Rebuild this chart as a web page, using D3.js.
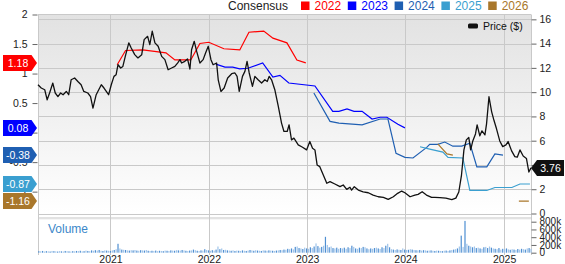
<!DOCTYPE html>
<html>
<head>
<meta charset="utf-8">
<script src="https://cdn.jsdelivr.net/npm/d3@7"></script>
<style>
body{margin:0;background:#fff;}
svg{display:block;font-family:"Liberation Sans",Arial,sans-serif;}
</style>
</head>
<body>
<div class="container"></div>
<script>
// price ($)
var priceDates = ["2020-04-07","2020-04-19","2020-05-02","2020-05-11","2020-05-20","2020-06-01","2020-06-10","2020-06-20","2020-06-30","2020-07-09","2020-07-21","2020-07-30","2020-08-08","2020-08-21","2020-09-02","2020-09-14","2020-09-24","2020-10-09","2020-10-19","2020-10-28","2020-11-09","2020-11-28","2020-12-08","2020-12-25",
"2021-01-04","2021-01-14","2021-01-22","2021-01-29","2021-02-08","2021-02-16","2021-02-25","2021-03-10","2021-03-19","2021-04-01","2021-04-13","2021-04-27","2021-05-06","2021-05-19","2021-05-27","2021-06-05","2021-06-15","2021-06-27","2021-07-10","2021-07-22","2021-08-03","2021-08-16","2021-08-28","2021-09-07","2021-09-16","2021-09-22","2021-10-04","2021-10-14","2021-10-23","2021-10-29","2021-11-08","2021-11-17","2021-11-29","2021-12-11","2021-12-20","2021-12-30",
"2022-01-09","2022-01-17","2022-01-30","2022-02-05","2022-02-15","2022-02-27","2022-03-12","2022-03-27","2022-04-08","2022-04-16","2022-04-24","2022-05-06","2022-05-15","2022-05-23","2022-05-31","2022-06-12","2022-06-21","2022-07-03","2022-07-16","2022-07-28","2022-08-06","2022-08-13","2022-08-22","2022-09-03","2022-09-16","2022-09-28","2022-10-07","2022-10-19","2022-10-26","2022-11-04","2022-11-13","2022-11-29","2022-12-15","2022-12-30",
"2023-01-11","2023-01-21","2023-01-30","2023-02-07","2023-02-17","2023-03-02","2023-03-15","2023-03-27","2023-04-14","2023-05-03","2023-05-15","2023-05-28","2023-06-09","2023-06-15","2023-06-25","2023-07-10","2023-07-28","2023-08-16","2023-09-03","2023-09-22","2023-10-11","2023-10-29","2023-11-17","2023-12-03","2023-12-18","2023-12-30",
"2024-01-18","2024-02-05","2024-02-17","2024-03-03","2024-03-19","2024-04-07","2024-04-19","2024-05-08","2024-05-30","2024-06-21","2024-07-06","2024-07-17","2024-07-27","2024-08-05","2024-08-14","2024-08-23","2024-08-30","2024-09-07","2024-09-17","2024-09-23","2024-10-03","2024-10-11","2024-10-22","2024-10-28","2024-11-06","2024-11-16","2024-11-25","2024-12-04","2024-12-16","2024-12-27",
"2025-01-08","2025-01-16","2025-01-29","2025-02-10","2025-02-19","2025-03-01","2025-03-13","2025-03-25","2025-04-03","2025-04-11"];
var priceValues = [10.61,10.34,10.20,9.37,9.93,10.75,9.93,9.64,9.93,9.79,10.06,9.79,11.02,11.17,10.88,10.61,10.06,9.93,9.64,8.69,9.79,10.61,10.34,9.79,
10.61,11.30,11.44,12.26,11.99,12.12,12.95,14.06,13.64,13.09,12.82,13.09,14.33,14.60,13.92,15.02,14.06,13.78,12.95,12.68,11.85,11.99,12.12,12.40,12.68,12.40,12.54,12.74,11.91,13.50,14.19,13.36,12.40,12.68,13.23,13.78,
12.68,12.26,12.40,11.02,10.06,10.34,11.17,11.52,11.58,11.30,10.06,11.30,11.71,12.54,11.58,10.47,11.30,11.02,10.75,11.02,10.88,11.30,11.02,10.20,8.82,7.45,6.76,6.76,7.31,6.07,6.21,5.65,5.46,5.24,
5.93,5.38,5.24,4.00,3.86,3.17,2.49,2.62,2.43,2.21,2.35,1.99,2.16,1.93,2.21,1.93,1.79,1.71,1.52,1.38,1.33,1.17,1.38,1.66,1.85,1.71,
1.38,1.52,1.58,1.79,1.52,1.33,1.33,1.31,1.27,1.15,1.27,1.77,3.17,5.24,6.07,6.27,5.24,5.98,6.56,7.31,6.40,6.81,6.48,7.39,9.62,8.38,7.64,6.98,5.98,5.51,
5.65,5.93,5.16,4.69,4.64,5.24,4.74,4.54,3.42,3.76];

// consensus EPS estimates per fiscal year
var est2022Dates = ["2021-01-26","2021-02-26","2021-05-01","2021-07-26","2021-08-28","2021-10-26","2021-11-29","2022-01-01","2022-02-26","2022-04-26","2022-05-30","2022-07-24","2022-08-27","2022-10-18","2022-11-24","2022-12-27"];
var est2022 = [1.15,1.39,1.40,1.35,1.23,1.23,1.51,1.53,1.42,1.40,1.70,1.72,1.60,1.52,1.23,1.18];
var est2023Dates = ["2022-01-27","2022-03-02","2022-03-31","2022-04-26","2022-05-26","2022-07-20","2022-08-27","2022-09-22","2022-10-25","2023-01-30","2023-04-06","2023-04-29","2023-05-29","2023-06-24","2023-07-24","2023-08-30","2023-09-29","2023-10-24","2023-12-04","2023-12-30"];
var est2023 = [1.16,1.11,1.11,1.08,1.09,1.18,0.94,0.97,0.84,0.79,0.36,0.36,0.40,0.36,0.36,0.23,0.26,0.26,0.14,0.08];
var est2024Dates = ["2023-01-26","2023-03-27","2023-04-29","2023-07-24","2023-09-29","2023-10-28","2023-11-27","2023-12-30","2024-01-29","2024-03-20","2024-03-31","2024-04-30","2024-05-26","2024-06-25","2024-07-28","2024-08-27","2024-09-22","2024-10-29","2024-11-28","2024-12-28"];
var est2024 = [0.67,0.19,0.16,0.13,0.23,0.23,-0.35,-0.42,-0.43,-0.25,-0.20,-0.20,-0.16,-0.23,-0.23,-0.18,-0.58,-0.58,-0.36,-0.38];
var est2025Dates = ["2024-02-24","2024-03-31","2024-05-19","2024-06-07","2024-08-01","2024-08-27","2024-10-29","2024-11-28","2025-01-30","2025-03-01","2025-04-07"];
var est2025 = [-0.24,-0.28,-0.33,-0.42,-0.43,-0.98,-0.98,-0.93,-0.93,-0.87,-0.87];
var est2026Dates = ["2024-04-30","2024-06-03","2024-06-25","2024-07-01","2025-02-25","2025-04-03"];
var est2026 = [-0.19,-0.36,-0.38,null,-1.16,-1.16];

var consensusYears = ["2022","2023","2024","2025","2026"];
var consensusBadges = [1.18,0.08,-0.38,-0.87,-1.16];
var lastPrice = 3.76;

// weekly volume in thousands, first week ending 2020-04-10
var VOLUME_FIRST_WEEK = "2020-04-10";
var volumeValues = [
40,35,45,30,40,35,30,45,40,35,
30,40,35,30,45,40,35,30,40,35,
45,40,50,35,40,55,45,40,60,50,
65,55,70,50,45,60,55,50,45,60,
70,90,230,110,80,75,70,60,55,65,
60,70,55,50,65,60,55,70,50,45,
50,45,55,40,50,45,40,55,50,45,
60,55,50,65,60,55,70,60,50,45,
55,60,80,65,50,45,60,55,90,70,
60,50,65,55,80,160,90,110,70,75,
60,55,50,60,45,55,50,45,60,50,
45,55,70,60,50,65,55,50,45,60,
55,50,60,55,50,45,55,60,70,65,
80,75,100,90,110,85,150,160,120,110,
95,130,110,100,140,120,160,240,170,130,
150,180,410,200,140,160,120,110,130,100,
120,110,130,100,140,120,180,150,110,100,
130,120,150,140,110,90,110,100,120,130,
110,95,140,120,180,230,140,90,80,70,
85,75,70,110,80,70,75,90,80,70,
65,60,70,55,65,60,50,55,60,50,
45,55,50,45,40,50,55,45,60,70,
80,90,110,160,440,150,820,230,180,160,
140,160,120,130,110,100,140,150,120,160,
130,110,100,90,120,80,100,90,110,85,
75,90,80,70,95,80,100,90,80,110,
120,100];

var priceTicks = [0,2,4,6,8,10,12,14,16];
var epsTicks = [-1,-0.5,0,0.5,1,1.5,2];
var volumeTicks = [0,200,400,600,800];
var yearTicks = ["2021-01-01","2022-01-01","2023-01-01","2024-01-01","2025-01-01"];

const WIDTH = 565;
const HEIGHT = 264;
const PLOT_LEFT = 38;
const PLOT_RIGHT = 531;
const PLOT_TOP = 14.5;
const PLOT_BOTTOM = 213.5;
const VOL_BOTTOM = 252.7;

const CONSENSUS_COLORS = ["#ff0000","#0000ff","#1f5fb2","#3a9fd0","#a9772b"];

var parseDate = d3.timeParse("%Y-%m-%d");

var translate = function(x, y){
  return "translate("+x+","+y+")";
};

var _x = d3.scaleTime()
  .domain([parseDate("2020-04-07"), parseDate("2025-04-11")])
  .range([PLOT_LEFT, PLOT_RIGHT]);

var _yPrice = d3.scaleLinear()
  .domain([0,16.4])
  .range([PLOT_BOTTOM, PLOT_TOP]);

var _yEps = d3.scaleLinear()
  .domain([-1.37,2])
  .range([PLOT_BOTTOM, PLOT_TOP]);

var _yVol = d3.scaleLinear()
  .domain([0,800])
  .range([VOL_BOTTOM, 221.7]);

var toPoints = function(dates, values){
  return dates.map(function(d,i){ return {date: parseDate(d), v: values[i]}; });
};

var _priceLine = d3.line()
  .x(function(d){ return _x(d.date); })
  .y(function(d){ return _yPrice(d.v); });

var _epsLine = d3.line()
  .defined(function(d){ return d.v != null; })
  .x(function(d){ return _x(d.date); })
  .y(function(d){ return _yEps(d.v); });

var generateChart = function(){
  var svg = d3.select('.container').append('svg')
    .attr('width', WIDTH)
    .attr('height', HEIGHT);

  var grad = svg.append('defs').append('linearGradient')
    .attr('id','bg').attr('x1',0).attr('y1',0).attr('x2',0).attr('y2',1);
  grad.append('stop').attr('offset','0%').attr('stop-color','#e2e2e2');
  grad.append('stop').attr('offset','100%').attr('stop-color','#ffffff');

  // plot background
  svg.append('rect')
    .attr('x', PLOT_LEFT).attr('y', PLOT_TOP)
    .attr('width', PLOT_RIGHT-PLOT_LEFT).attr('height', PLOT_BOTTOM-PLOT_TOP)
    .attr('fill','url(#bg)');

  // band between price and volume panels
  svg.append('rect')
    .attr('x', PLOT_LEFT).attr('y', 217)
    .attr('width', PLOT_RIGHT-PLOT_LEFT).attr('height', 2.3)
    .attr('fill','#e2e2e2');

  // horizontal grid
  svg.append('g').selectAll('line').data(priceTicks)
    .enter().append('line')
    .attr('x1', PLOT_LEFT).attr('x2', PLOT_RIGHT)
    .attr('y1', function(d){ return Math.round(_yPrice(d))+0.5; })
    .attr('y2', function(d){ return Math.round(_yPrice(d))+0.5; })
    .attr('stroke','#c9c9c9');
  svg.append('line')
    .attr('x1', PLOT_LEFT).attr('x2', PLOT_RIGHT)
    .attr('y1', 14.5).attr('y2', 14.5)
    .attr('stroke','#c9c9c9');

  // vertical grid (years + borders)
  var vLines = [PLOT_LEFT, PLOT_RIGHT].concat(yearTicks.map(function(d){ return _x(parseDate(d)); }));
  svg.append('g').selectAll('line').data(vLines)
    .enter().append('line')
    .attr('x1', function(d){ return Math.round(d)+0.5; })
    .attr('x2', function(d){ return Math.round(d)+0.5; })
    .attr('y1', PLOT_TOP).attr('y2', 255)
    .attr('stroke','#c9c9c9');

  // volume bars
  var firstWeek = parseDate(VOLUME_FIRST_WEEK);
  svg.append('g').selectAll('rect').data(volumeValues)
    .enter().append('rect')
    .attr('x', function(d,i){ return _x(d3.timeDay.offset(firstWeek, 7*i)) - 0.6; })
    .attr('width', 1.2)
    .attr('y', function(d){ return _yVol(d); })
    .attr('height', function(d){ return VOL_BOTTOM - _yVol(d); })
    .attr('fill', function(d,i){ return i%2 ? '#9fc4ea' : '#4f8fd2'; });

  svg.append('text')
    .attr('x', 48).attr('y', 233)
    .attr('font-size', 12)
    .attr('fill', '#3b87c9')
    .text('Volume');

  // consensus lines
  var series = [
    toPoints(est2022Dates, est2022),
    toPoints(est2023Dates, est2023),
    toPoints(est2024Dates, est2024),
    toPoints(est2025Dates, est2025),
    toPoints(est2026Dates, est2026)
  ];
  svg.append('g').selectAll('path').data(series)
    .enter().append('path')
    .attr('d', _epsLine)
    .attr('fill','none')
    .attr('stroke-width', 1.2)
    .attr('stroke', function(d,i){ return CONSENSUS_COLORS[i]; });

  // price line
  svg.append('path')
    .datum(toPoints(priceDates, priceValues))
    .attr('d', _priceLine)
    .attr('fill','none')
    .attr('stroke','#111')
    .attr('stroke-width', 1.3)
    .attr('stroke-linejoin','round');

  // right axis (price)
  var rightAxis = svg.append('g')
    .attr('transform', translate(PLOT_RIGHT+0.5, 0))
    .call(d3.axisRight(_yPrice).tickValues(priceTicks).tickSize(5).tickPadding(3).tickFormat(d3.format('d')));
  // right axis (volume)
  var volAxis = svg.append('g')
    .attr('transform', translate(PLOT_RIGHT+0.5, 0))
    .call(d3.axisRight(_yVol).tickValues(volumeTicks).tickSize(5).tickPadding(3)
      .tickFormat(function(d){ return d === 0 ? '0' : d + 'k'; }));
  // left axis (eps)
  var leftAxis = svg.append('g')
    .attr('transform', translate(PLOT_LEFT-0.5, 0))
    .call(d3.axisLeft(_yEps).tickValues(epsTicks).tickSize(5).tickPadding(5)
      .tickFormat(function(d){ return String(d); }));
  // bottom axis (years)
  var bottomAxis = svg.append('g')
    .attr('transform', translate(0, 254))
    .call(d3.axisBottom(_x).tickValues(yearTicks.map(parseDate)).tickSize(0).tickPadding(2)
      .tickFormat(d3.timeFormat('%Y')));

  [rightAxis, volAxis, leftAxis, bottomAxis].forEach(function(a){
    a.select('.domain').remove();
    a.selectAll('text').attr('font-family','"Liberation Sans",Arial,sans-serif').attr('font-size',10.5).attr('fill','#222');
    a.selectAll('line').attr('stroke','#666');
  });
  volAxis.selectAll('text').attr('font-size',10);

  // left badges for consensus
  var badges = svg.append('g').selectAll('g').data(consensusBadges)
    .enter().append('g')
    .attr('transform', function(d){ return translate(0, _yEps(d)); });
  badges.append('path')
    .attr('d','M3,-8H31.5L37,0L31.5,8H3Z')
    .attr('fill', function(d,i){ return CONSENSUS_COLORS[i]; });
  badges.append('text')
    .attr('x', 18).attr('y', 3.8)
    .attr('text-anchor','middle')
    .attr('font-size', 10.5)
    .attr('fill','#fff')
    .text(function(d){ return d.toFixed(2); });

  // right badge for last price
  var pb = svg.append('g').attr('transform', translate(0, _yPrice(lastPrice)));
  pb.append('path').attr('d','M531,0L537,-8H564V8H537Z').attr('fill','#111');
  pb.append('text')
    .attr('x', 550.5).attr('y', 3.8)
    .attr('text-anchor','middle')
    .attr('font-size', 10.5)
    .attr('fill','#fff')
    .text(lastPrice.toFixed(2));

  // legends
  var legend = svg.append('g');
  legend.append('text')
    .attr('x', 228).attr('y', 9.5)
    .attr('font-size', 12).attr('fill','#222')
    .text('Consensus');
  var items = legend.selectAll('g.item').data(consensusYears)
    .enter().append('g')
    .attr('transform', function(d,i){ return translate(301 + i*46.8, 0); });
  items.append('rect')
    .attr('x',0).attr('y',1.5).attr('width',8.5).attr('height',8.5)
    .attr('fill', function(d,i){ return CONSENSUS_COLORS[i]; });
  items.append('text')
    .attr('x', 13.5).attr('y', 9.8)
    .attr('font-size', 12)
    .attr('fill', function(d,i){ return CONSENSUS_COLORS[i]; })
    .text(function(d){ return d; });

  svg.append('rect')
    .attr('x', 468).attr('y', 23.5).attr('width', 10).attr('height', 5).attr('rx', 1.5)
    .attr('fill','#111');
  svg.append('text')
    .attr('x', 483).attr('y', 29.8)
    .attr('font-size', 10.5).attr('fill','#111')
    .text('Price ($)');
};

window.onload = generateChart;
</script>
</body>
</html>
